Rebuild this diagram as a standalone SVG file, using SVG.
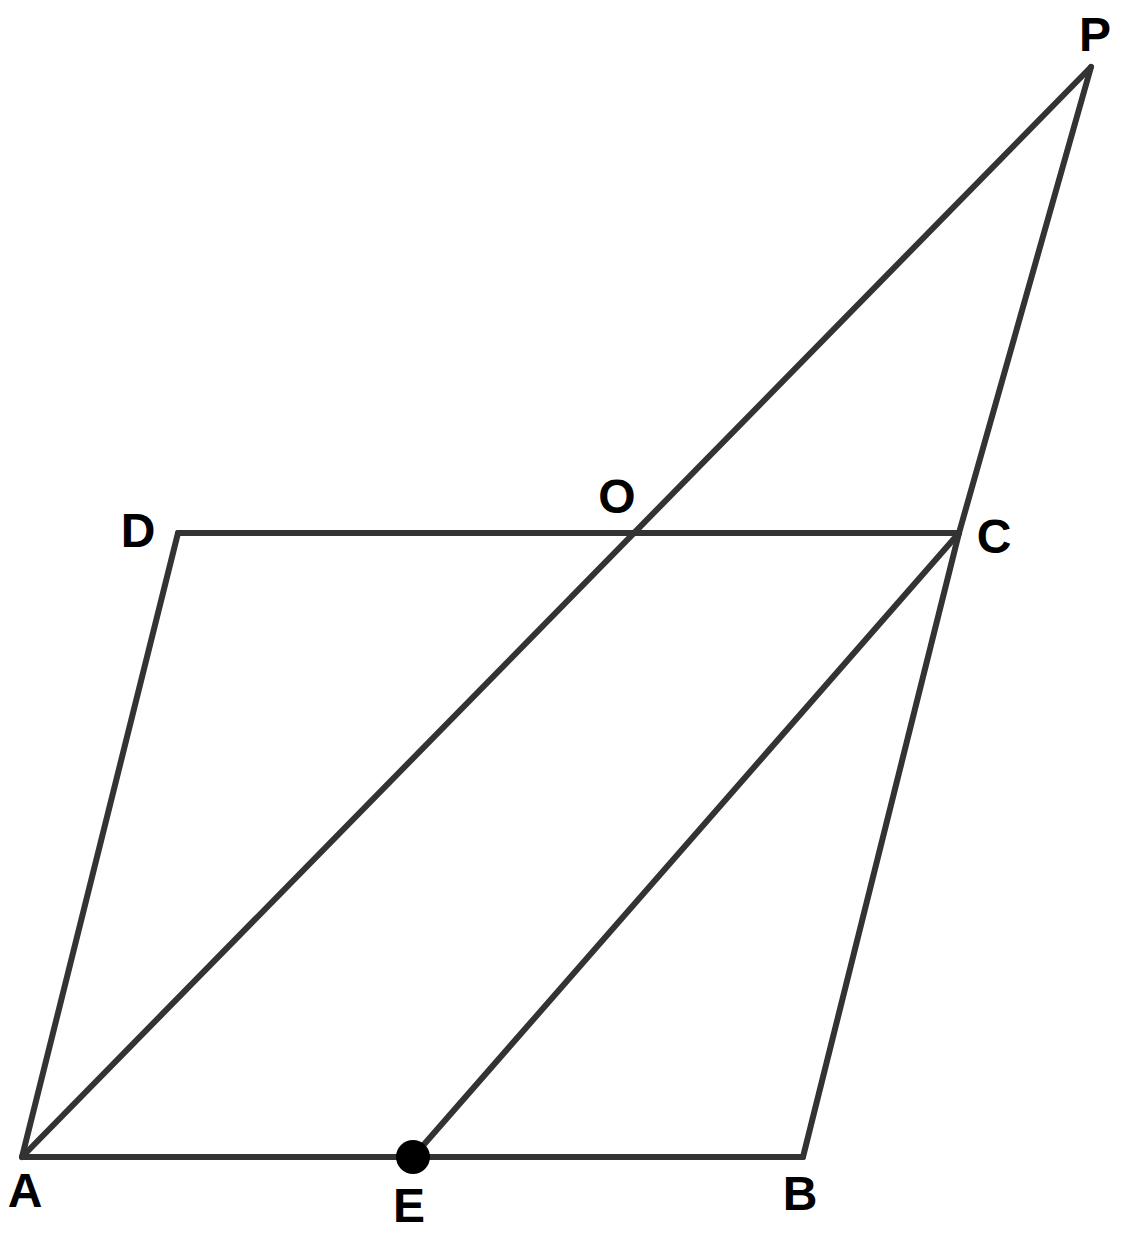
<svg xmlns="http://www.w3.org/2000/svg" width="1122" height="1238" viewBox="0 0 1122 1238">
<style>
.l{stroke:#333;stroke-width:6;stroke-linecap:round;fill:none}
.t{font-family:"Liberation Sans",Arial,sans-serif;font-weight:bold;font-size:48px;fill:#000;text-anchor:middle}
</style>
<rect width="1122" height="1238" fill="#fff"/>
<g id="connectors">
<line class="l" x1="22" y1="1157" x2="803" y2="1157"/>
<line class="l" x1="22" y1="1157" x2="178" y2="533"/>
<line class="l" x1="178" y1="533" x2="959" y2="533"/>
<line class="l" x1="803" y1="1157" x2="959" y2="533"/>
<line class="l" x1="959" y1="533" x2="1091" y2="67"/>
<line class="l" x1="22" y1="1157" x2="1091" y2="67"/>
<line class="l" x1="413" y1="1157" x2="959" y2="533"/>
</g>
<g id="A"><text class="t" x="25" y="1207">A</text></g>
<g id="E"><circle cx="413" cy="1157" r="17" fill="#000"/><text class="t" x="409" y="1222">E</text></g>
<g id="B"><text class="t" x="800" y="1210">B</text></g>
<g id="C"><text class="t" x="994" y="553">C</text></g>
<g id="D"><text class="t" x="138" y="547">D</text></g>
<g id="O"><text class="t" x="617" y="513">O</text></g>
<g id="P"><text class="t" x="1095" y="51">P</text></g>
</svg>
